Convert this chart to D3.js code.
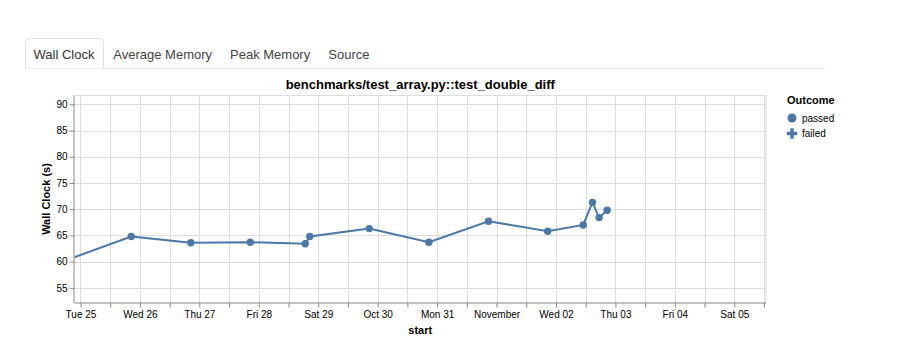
<!DOCTYPE html>
<html>
<head>
<meta charset="utf-8">
<script src="https://cdn.jsdelivr.net/npm/d3@7"></script>
<style>
  html, body { margin: 0; padding: 0; background: #fff; }
  svg text { font-family: "Liberation Sans", Arial, Helvetica, sans-serif; }
</style>
</head>
<body>
<svg id="chart" width="900" height="356"></svg>
<script>
// ---- data ----
const tabLabels = ["Wall Clock", "Average Memory", "Peak Memory", "Source"];
const chartTitle = "benchmarks/test_array.py::test_double_diff";
const yTitle = "Wall Clock (s)";
const xTitle = "start";
const legendTitle = "Outcome";
const outcomeCategories = ["passed", "failed"];

const startTimes = [
  "2022-10-24T16:00:00Z", "2022-10-25T20:30:00Z", "2022-10-26T20:34:00Z",
  "2022-10-27T20:34:00Z", "2022-10-28T18:45:00Z", "2022-10-28T20:36:00Z",
  "2022-10-29T20:36:00Z", "2022-10-30T20:40:00Z", "2022-10-31T20:45:00Z",
  "2022-11-01T20:40:00Z", "2022-11-02T11:00:00Z", "2022-11-02T14:43:00Z",
  "2022-11-02T17:24:00Z", "2022-11-02T20:40:00Z"
];
const wallClock = [59.9, 64.8, 63.6, 63.7, 63.4, 64.8, 66.3, 63.7, 67.7, 65.8, 67.0, 71.3, 68.4, 69.8];
const outcomes = ["passed", "passed", "passed", "passed", "passed", "passed", "passed",
                  "passed", "passed", "passed", "passed", "passed", "passed", "passed"];

const xDomain = ["2022-10-24T21:35:00Z", "2022-11-05T12:48:00Z"];
const yDomain = [52.21, 91.68];
const yTickValues = [55, 60, 65, 70, 75, 80, 85, 90];
const xTickLabels = ["Tue 25", "Wed 26", "Thu 27", "Fri 28", "Sat 29", "Oct 30",
                     "Mon 31", "November", "Wed 02", "Thu 03", "Fri 04", "Sat 05"];
const xLabelStart = "2022-10-25T00:00:00Z";

// ---- layout ----
const svg = d3.select("#chart");
const L = 74.5, R = 766, T = 95.5, B = 302.5;
const color = "#4c78a8";

const x = d3.scaleUtc().domain(xDomain.map(d => new Date(d))).range([L, R]);
const y = d3.scaleLinear().domain(yDomain).range([B, T]);

const data = startTimes.map((t, i) => ({ t: new Date(t), v: wallClock[i], o: outcomes[i] }));

// ---- tabs ----
const tabs = svg.append("g");
tabs.append("line").attr("x1", 25).attr("x2", 825).attr("y1", 68.5).attr("y2", 68.5)
  .attr("stroke", "#dee2e6");
tabs.append("path")
  .attr("d", "M25.5,68.5 V42.5 Q25.5,38.5 29.5,38.5 H99.5 Q103.5,38.5 103.5,42.5 V68.5")
  .attr("fill", "#fff").attr("stroke", "#dee2e6");
const tabX = [33.5, 113.3, 230, 328.3];
tabLabels.forEach((t, i) => {
  tabs.append("text").attr("x", tabX[i]).attr("y", 59).attr("font-size", 13)
    .attr("fill", i === 0 ? "#333" : "#444").text(t);
});

// ---- grid ----
const xGridTicks = d3.utcHour.every(12).range(x.domain()[0], x.domain()[1]);
const grid = svg.append("g");
grid.selectAll(".gx").data(xGridTicks).join("line")
  .attr("x1", d => Math.round(x(d)) + 0.5).attr("x2", d => Math.round(x(d)) + 0.5)
  .attr("y1", T).attr("y2", B).attr("stroke", "#ddd");
grid.selectAll(".gy").data(yTickValues).join("line")
  .attr("x1", L).attr("x2", R)
  .attr("y1", d => Math.round(y(d)) + 0.5).attr("y2", d => Math.round(y(d)) + 0.5)
  .attr("stroke", "#ddd");
grid.append("line").attr("x1", L).attr("x2", R).attr("y1", T).attr("y2", T).attr("stroke", "#ddd");
grid.append("line").attr("x1", R).attr("x2", R).attr("y1", T).attr("y2", B).attr("stroke", "#ddd");

// ---- marks (clipped) ----
svg.append("clipPath").attr("id", "clip").append("rect")
  .attr("x", L).attr("y", T).attr("width", R - L).attr("height", B - T);
const marks = svg.append("g").attr("clip-path", "url(#clip)");
marks.append("path").datum(data)
  .attr("d", d3.line().x(d => x(d.t)).y(d => y(d.v)))
  .attr("fill", "none").attr("stroke", color).attr("stroke-width", 2);
marks.selectAll("circle").data(data.filter(d => d.o === "passed")).join("circle")
  .attr("cx", d => x(d.t)).attr("cy", d => y(d.v)).attr("r", 3.7)
  .attr("fill", color);

// ---- axes ----
const labelStart = new Date(xLabelStart);
const xAxis = d3.axisBottom(x).tickValues(xGridTicks).tickSize(5).tickPadding(3)
  .tickFormat(d => {
    const k = Math.round((d - labelStart) / 864e5 * 2);
    return (k % 2 === 0 && k >= 0 && k / 2 < xTickLabels.length) ? xTickLabels[k / 2] : "";
  });
const gx = svg.append("g").attr("transform", `translate(0,${B})`).call(xAxis);
gx.select(".domain").attr("stroke", "#888").attr("d", `M${L},0.5H${R}`);
gx.selectAll(".tick line").attr("stroke", "#888");
gx.selectAll(".tick text").attr("font-size", 10).attr("fill", "#000")
  .attr("font-family", "Liberation Sans, Arial, sans-serif");

const yAxis = d3.axisLeft(y).tickValues(yTickValues).tickSize(5).tickPadding(2);
const gy = svg.append("g").attr("transform", `translate(${L},0)`).call(yAxis);
gy.select(".domain").attr("stroke", "#888").attr("d", `M-0.5,${T}V${B + 0.5}`);
gy.selectAll(".tick line").attr("stroke", "#888");
gy.selectAll(".tick text").attr("font-size", 10).attr("fill", "#000")
  .attr("font-family", "Liberation Sans, Arial, sans-serif");

// ---- titles ----
svg.append("text").attr("x", (L + R) / 2).attr("y", 89).attr("text-anchor", "middle")
  .attr("font-size", 13).attr("font-weight", "bold").text(chartTitle);
svg.append("text").attr("transform", `translate(50,${(T + B) / 2}) rotate(-90)`)
  .attr("text-anchor", "middle").attr("font-size", 11).attr("font-weight", "bold").text(yTitle);
svg.append("text").attr("x", (L + R) / 2).attr("y", 334).attr("text-anchor", "middle")
  .attr("font-size", 11).attr("font-weight", "bold").text(xTitle);

// ---- legend ----
const lg = svg.append("g").attr("transform", "translate(787,0)");
lg.append("text").attr("x", 0).attr("y", 104).attr("font-size", 11).attr("font-weight", "bold").text(legendTitle);
const symbols = { passed: d3.symbolCircle, failed: d3.symbolCross };
outcomeCategories.forEach((c, i) => {
  const cy = 118 + i * 15.5;
  lg.append("path").attr("transform", `translate(5,${cy})`)
    .attr("d", d3.symbol().type(symbols[c]).size(i === 0 ? 64 : 60)())
    .attr("fill", color);
  lg.append("text").attr("x", 15).attr("y", cy + 3.5).attr("font-size", 10).text(c);
});
</script>
</body>
</html>
